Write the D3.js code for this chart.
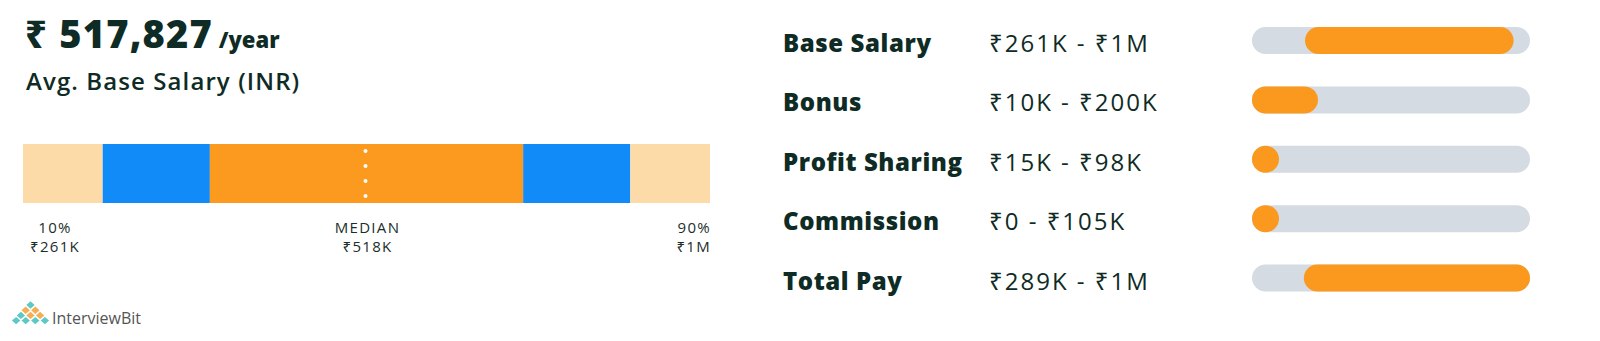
<!DOCTYPE html>
<html>
<head>
<meta charset="utf-8">
<script src="https://cdn.jsdelivr.net/npm/d3@7"></script>
<style>
  body { margin: 0; background: #fff; }
  svg { display: block; font-family: "Open Sans", "Noto Sans", sans-serif; }
</style>
</head>
<body>
<svg id="chart" width="1600" height="341"></svg>
<script>
// headline numbers
const avgSalary = "₹ 517,827";
const perUnit = "/year";
const subtitle = "Avg. Base Salary (INR)";

// percentile band (stops in % of the bar width)
const bandStops = [0, 11.6, 27.2, 72.8, 88.4, 100];
const bandColors = ["#fddba8", "#118bf8", "#fb9a1e", "#118bf8", "#fddba8"];
const markerPos = [0, 50, 100];
const markerTop = ["10%", "MEDIAN", "90%"];
const markerBottom = ["₹261K", "₹518K", "₹1M"];

// pay breakdown
const payLabels = ["Base Salary", "Bonus", "Profit Sharing", "Commission", "Total Pay"];
const payRanges = ["₹261K - ₹1M", "₹10K - ₹200K", "₹15K - ₹98K", "₹0 - ₹105K", "₹289K - ₹1M"];
const payLow = [226, 0, 0, 0, 221];     // bar start, K
const payHigh = [1000, 166, 0, 0, 1070]; // bar end, K

const ink = "#0f2b25";
const svg = d3.select("#chart");

// ---- left: headline ----
const head = svg.append("text").attr("x", 25).attr("y", 48).attr("fill", ink);
head.append("tspan").text(avgSalary).attr("font-size", 38).attr("font-weight", 800)
  .attr("letter-spacing", 1.2);
head.append("tspan").text(" " + perUnit).attr("font-size", 22).attr("font-weight", 800);
svg.append("text").attr("x", 26).attr("y", 90).attr("fill", ink)
  .attr("font-size", 24).attr("font-weight", 600).attr("letter-spacing", 1.1).text(subtitle);

// ---- left: band ----
const bx = d3.scaleLinear().domain([0, 100]).range([23, 710]);
const bandTop = 144, bandH = 59;
const segs = d3.pairs(bandStops);
svg.append("g").selectAll("rect").data(segs).join("rect")
  .attr("x", d => bx(d[0])).attr("width", d => bx(d[1]) - bx(d[0]))
  .attr("y", bandTop).attr("height", bandH)
  .attr("fill", (d, i) => bandColors[i]);

// median dots
const dotY = d3.scaleLinear().domain([0, 3]).range([bandTop + 7, bandTop + 52]);
svg.append("g").selectAll("circle").data(d3.range(4)).join("circle")
  .attr("cx", bx(50) - 1).attr("cy", d => dotY(d)).attr("r", 2).attr("fill", "#fff");

const mx = [bx(markerPos[0]) + 32, bx(markerPos[1]) + 1, bx(markerPos[2]) + 1];
const anchors = ["middle", "middle", "end"];
const marks = svg.append("g").attr("fill", "#1c2e2a").attr("font-size", 15)
  .attr("letter-spacing", 1.3);
marks.selectAll("text.top").data(markerTop).join("text").attr("class", "top")
  .attr("x", (d, i) => mx[i]).attr("y", 233).attr("text-anchor", (d, i) => anchors[i]).text(d => d);
marks.selectAll("text.bot").data(markerBottom).join("text").attr("class", "bot")
  .attr("x", (d, i) => mx[i]).attr("y", 252).attr("text-anchor", (d, i) => anchors[i]).text(d => d);

// ---- logo ----
const logo = svg.append("g").attr("transform", "translate(11,301)");
const dia = [];
[1, 2, 3, 4].forEach((n, r) => {
  for (let k = 0; k < n; k++) dia.push({ r, k, n });
});
const dw = 9.6, dh = 7.4;
logo.selectAll("path").data(dia).join("path")
  .attr("transform", d => `translate(${19.5 + (d.k - (d.n - 1) / 2) * dw},${4 + d.r * 5.2})`)
  .attr("d", `M0,${-dh / 2}L${dw / 2 - 0.6},0L0,${dh / 2}L${-dw / 2 + 0.6},0Z`)
  .attr("fill", d => (d.r === 1 || (d.r === 2 && d.k !== 0)) ? "#f6ae55" : "#5cc9c6");
svg.append("text").attr("x", 52).attr("y", 324).attr("fill", "#555").attr("font-size", 16)
  .attr("font-weight", 500).text("Interview")
  .append("tspan").attr("font-weight", 400).text("Bit");

// ---- right: pay rows ----
const y = d3.scalePoint().domain(payLabels).range([40.5, 278]);
const x = d3.scaleLinear().domain([0, 1070]).range([1265.5, 1516.5]);
const r = 13.5;

const rows = svg.append("g").selectAll("g").data(payLabels).join("g")
  .attr("transform", d => `translate(0,${y(d)})`);
rows.append("text").attr("x", 783).attr("y", 11.5).attr("fill", ink)
  .attr("font-size", 24).attr("font-weight", 800).attr("letter-spacing", 0.6).text(d => d);
rows.append("text").attr("x", 989).attr("y", 11.5).attr("fill", ink)
  .attr("font-size", 24).attr("font-weight", 400).attr("letter-spacing", 2)
  .text((d, i) => payRanges[i]);
rows.append("rect").attr("x", x(0) - r).attr("width", x(1070) - x(0) + 2 * r)
  .attr("y", -r).attr("height", 2 * r).attr("rx", r).attr("fill", "#d4dbe2");
rows.append("rect")
  .attr("x", (d, i) => x(payLow[i]) - r)
  .attr("width", (d, i) => x(payHigh[i]) - x(payLow[i]) + 2 * r)
  .attr("y", -r).attr("height", 2 * r).attr("rx", r).attr("fill", "#fb991e");
</script>
</body>
</html>
